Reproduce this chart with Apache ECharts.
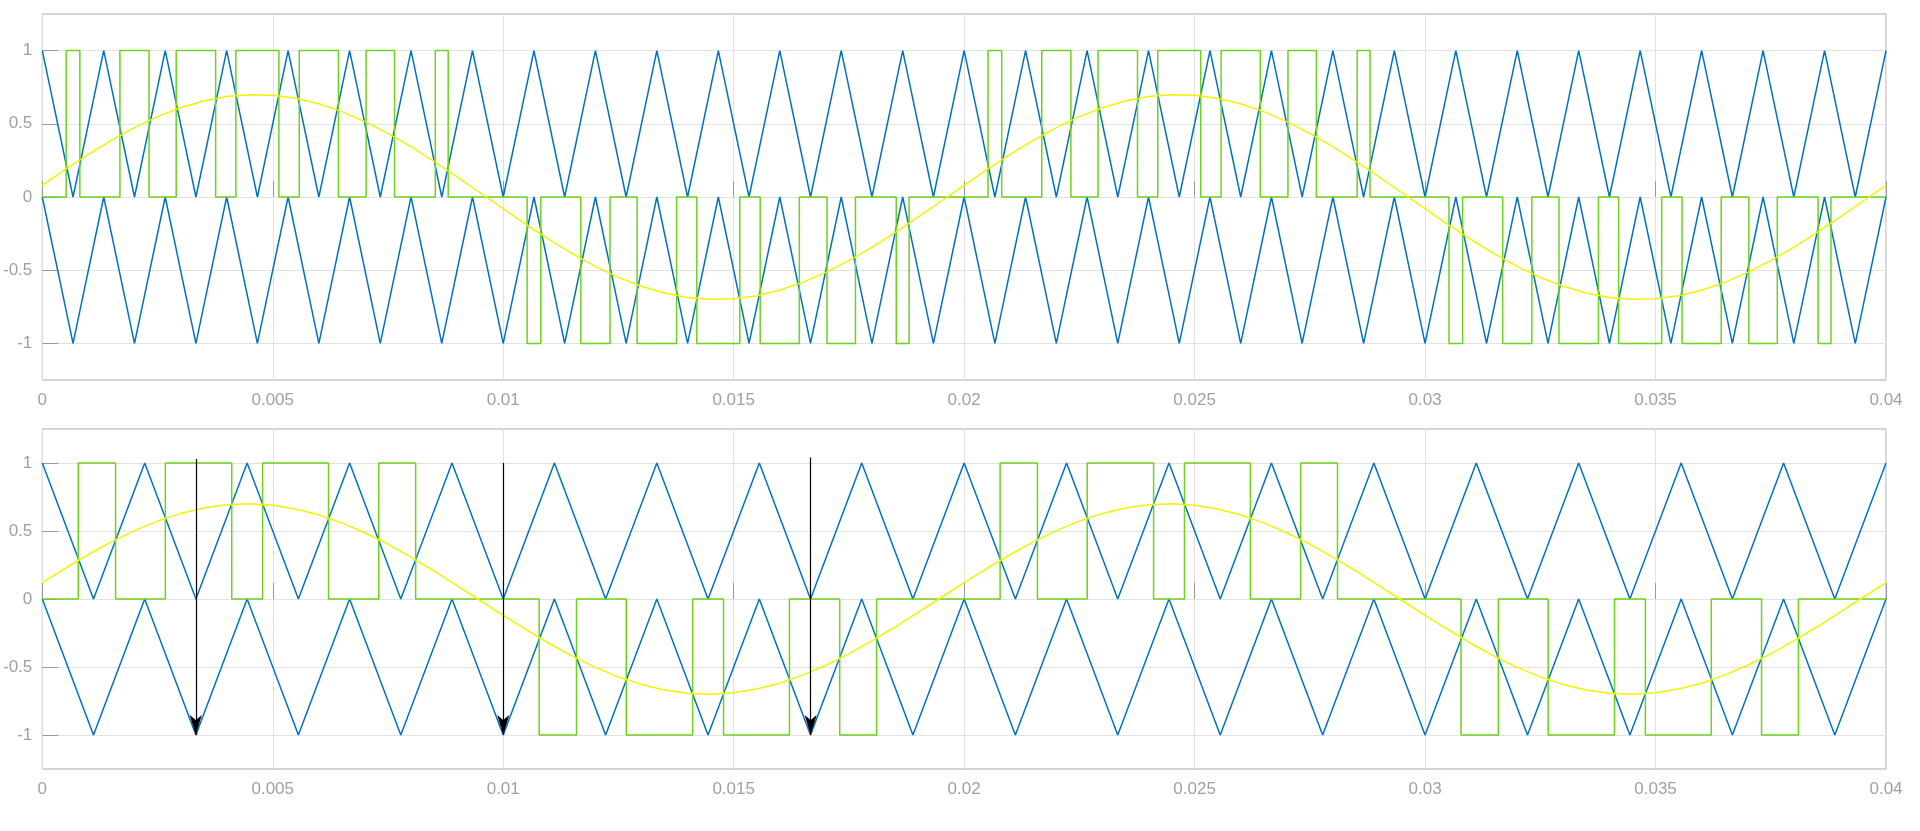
<!DOCTYPE html>
<html lang="en">
<head>
  <meta charset="UTF-8">
  <title>PWM</title>
  <script src="https://cdn.jsdelivr.net/npm/echarts@6/dist/echarts.min.js"></script>
  <style>
    html, body { margin: 0; padding: 0; background: #fff; }
    #chart { width: 1920px; height: 831px; }
  </style>
</head>
<body>
  <div id="chart"></div>
  <script>
    // time axis ticks (s)
    const xTicks = [0, 0.005, 0.01, 0.015, 0.02, 0.025, 0.03, 0.035, 0.04]
    const yTicks = [-1, -0.5, 0, 0.5, 1]

    // top: carrier vertices (ms) and levels
    const topCarrierT = [0,0.667,1.333,2,2.667,3.333,4,4.667,5.333,6,6.667,7.333,8,8.667,9.333,10,10.667,11.333,12,12.667,13.333,14,14.667,15.333,16,16.667,17.333,18,18.667,19.333,20,20.667,21.333,22,22.667,23.333,24,24.667,25.333,26,26.667,27.333,28,28.667,29.333,30,30.667,31.333,32,32.667,33.333,34,34.667,35.333,36,36.667,37.333,38,38.667,39.333,40]
    const topUpper = [1,0,1,0,1,0,1,0,1,0,1,0,1,0,1,0,1,0,1,0,1,0,1,0,1,0,1,0,1,0,1,0,1,0,1,0,1,0,1,0,1,0,1,0,1,0,1,0,1,0,1,0,1,0,1,0,1,0,1,0,1]
    const topLower = [0,-1,0,-1,0,-1,0,-1,0,-1,0,-1,0,-1,0,-1,0,-1,0,-1,0,-1,0,-1,0,-1,0,-1,0,-1,0,-1,0,-1,0,-1,0,-1,0,-1,0,-1,0,-1,0,-1,0,-1,0,-1,0,-1,0,-1,0,-1,0,-1,0,-1,0]
    // top: reference sine sampled every 0.5 ms
    const topSine = [
      0.080,0.188,0.291,0.387,0.474,0.549,0.610,0.656,0.686,0.699,0.695,0.674,0.637,0.583,0.515,0.435,0.344,0.244,0.138,0.029,
      -0.080,-0.188,-0.291,-0.387,-0.474,-0.549,-0.610,-0.656,-0.686,-0.699,-0.695,-0.674,-0.637,-0.583,-0.515,-0.435,-0.344,-0.244,-0.138,-0.029,
      0.080,0.188,0.291,0.387,0.474,0.549,0.610,0.656,0.686,0.699,0.695,0.674,0.637,0.583,0.515,0.435,0.344,0.244,0.138,0.029,
      -0.080,-0.188,-0.291,-0.387,-0.474,-0.549,-0.610,-0.656,-0.686,-0.699,-0.695,-0.674,-0.637,-0.583,-0.515,-0.435,-0.344,-0.244,-0.138,-0.029,
      0.080]
    // top: PWM pulses [start ms, end ms, level]
    const topPulses = [
      [0.518,0.815,1],[1.684,2.316,1],[2.905,3.761,1],[4.2,5.133,1],[5.575,6.425,1],[7.025,7.642,1],[8.527,8.806,1],
      [10.518,10.815,-1],[11.684,12.316,-1],[12.905,13.761,-1],[14.2,15.133,-1],[15.575,16.425,-1],[17.025,17.642,-1],[18.527,18.806,-1],
      [20.518,20.815,1],[21.684,22.316,1],[22.905,23.761,1],[24.2,25.133,1],[25.575,26.425,1],[27.025,27.642,1],[28.527,28.806,1],
      [30.518,30.815,-1],[31.684,32.316,-1],[32.905,33.761,-1],[34.2,35.133,-1],[35.575,36.425,-1],[37.025,37.642,-1],[38.527,38.806,-1]
    ]

    // bottom: carrier vertices (ms) and levels
    const botCarrierT = [0,1.111,2.222,3.333,4.444,5.556,6.667,7.778,8.889,10,11.111,12.222,13.333,14.444,15.556,16.667,17.778,18.889,20,21.111,22.222,23.333,24.444,25.556,26.667,27.778,28.889,30,31.111,32.222,33.333,34.444,35.556,36.667,37.778,38.889,40]
    const botUpper = [1,0,1,0,1,0,1,0,1,0,1,0,1,0,1,0,1,0,1,0,1,0,1,0,1,0,1,0,1,0,1,0,1,0,1,0,1]
    const botLower = [0,-1,0,-1,0,-1,0,-1,0,-1,0,-1,0,-1,0,-1,0,-1,0,-1,0,-1,0,-1,0,-1,0,-1,0,-1,0,-1,0,-1,0,-1,0]
    // bottom: reference sine sampled every 0.5 ms
    const botSine = [
      0.120,0.226,0.327,0.420,0.503,0.573,0.628,0.669,0.693,0.700,0.690,0.662,0.619,0.560,0.487,0.403,0.308,0.206,0.099,-0.011,
      -0.120,-0.226,-0.327,-0.420,-0.503,-0.573,-0.628,-0.669,-0.693,-0.700,-0.690,-0.662,-0.619,-0.560,-0.487,-0.403,-0.308,-0.206,-0.099,0.011,
      0.120,0.226,0.327,0.420,0.503,0.573,0.628,0.669,0.693,0.700,0.690,0.662,0.619,0.560,0.487,0.403,0.308,0.206,0.099,-0.011,
      -0.120,-0.226,-0.327,-0.420,-0.503,-0.573,-0.628,-0.669,-0.693,-0.700,-0.690,-0.662,-0.619,-0.560,-0.487,-0.403,-0.308,-0.206,-0.099,0.011,
      0.120]
    const botPulses = [
      [0.78,1.59,1],[2.67,4.11,1],[4.78,6.21,1],[7.30,8.10,1],
      [10.78,11.59,-1],[12.67,14.11,-1],[14.78,16.21,-1],[17.30,18.10,-1],
      [20.78,21.59,1],[22.67,24.11,1],[24.78,26.21,1],[27.30,28.10,1],
      [30.78,31.59,-1],[32.67,34.11,-1],[34.78,36.21,-1],[37.30,38.10,-1]
    ]
    // sampling arrows on bottom plot [t ms, top y]
    const arrows = [[3.33, 1.03], [10.0, 1.0], [16.67, 1.04]]

    const ms = t => t / 1000
    const pairs = (ts, vs) => ts.map((t, i) => [ms(t), vs[i]])
    const sinePts = vs => vs.map((v, i) => [ms(i * 0.5), v])
    function pulsePts(pulses) {
      let pts = [[0, 0]]
      pulses.forEach(p => {
        pts.push([ms(p[0]), 0], [ms(p[0]), p[2]], [ms(p[1]), p[2]], [ms(p[1]), 0])
      })
      pts.push([0.04, 0])
      return pts
    }

    const blue = '#0072BD', green = '#6ED11C', yellow = '#F2F200'
    const font = 'Liberation Sans, Arial, sans-serif'

    function xAxisFor(idx) {
      return {
        gridIndex: idx, type: 'value', min: 0, max: 0.04, interval: 0.005,
        axisLine: { show: false },
        axisTick: { show: true, inside: true, length: 16, lineStyle: { color: '#999' } },
        axisLabel: { color: '#a0a0a0', fontSize: 17, fontFamily: font, margin: 12 },
        splitLine: { show: true, lineStyle: { color: '#e2e2e2', width: 1 } }
      }
    }
    function yAxisFor(idx) {
      return {
        gridIndex: idx, type: 'value', min: -1.25, max: 1.25,
        axisLine: { show: false },
        axisTick: { show: true, inside: true, length: 16, customValues: yTicks, lineStyle: { color: '#999' } },
        axisLabel: { color: '#a0a0a0', fontSize: 17, fontFamily: font, margin: 10, customValues: yTicks },
        splitLine: { show: true, lineStyle: { color: '#e2e2e2', width: 1 } }
      }
    }
    function line(idx, data, color, extra) {
      return Object.assign({
        type: 'line', xAxisIndex: idx, yAxisIndex: idx, data: data,
        showSymbol: false, symbol: 'none', animation: false,
        lineStyle: { color: color, width: 1.5 }
      }, extra || {})
    }

    let chart = echarts.init(document.getElementById('chart'))
    chart.setOption({
      animation: false,
      grid: [
        { left: 38, right: 34, top: 14, height: 366, show: true, borderColor: '#a8a8a8', borderWidth: 1, backgroundColor: '#fff' },
        { left: 38, right: 34, top: 429, height: 340, show: true, borderColor: '#a8a8a8', borderWidth: 1, backgroundColor: '#fff' }
      ],
      xAxis: [xAxisFor(0), xAxisFor(1)],
      yAxis: [yAxisFor(0), yAxisFor(1)],
      series: [
        line(0, pairs(topCarrierT, topUpper), blue),
        line(0, pairs(topCarrierT, topLower), blue),
        line(0, pulsePts(topPulses), green),
        line(0, sinePts(topSine), yellow),
        line(1, pairs(botCarrierT, botUpper), blue),
        line(1, pairs(botCarrierT, botLower), blue),
        line(1, pulsePts(botPulses), green),
        line(1, sinePts(botSine), yellow, {
          markLine: {
            silent: true, animation: false,
            symbol: ['none', 'arrow'], symbolSize: [9, 20],
            label: { show: false },
            lineStyle: { color: '#000', width: 1.2, type: 'solid' },
            data: arrows.map(a => [{ coord: [ms(a[0]), a[1]] }, { coord: [ms(a[0]), -1] }])
          }
        })
      ]
    })
  </script>
</body>
</html>
